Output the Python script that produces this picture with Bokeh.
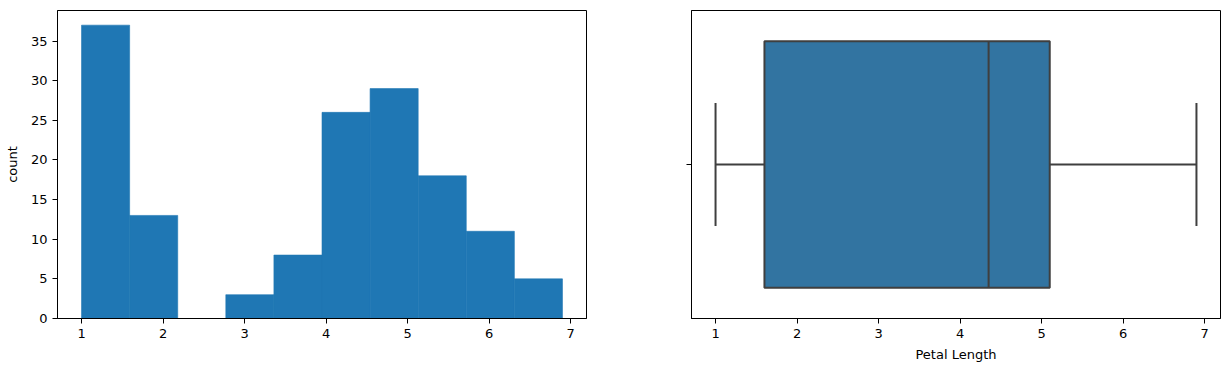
from bokeh.plotting import figure
from bokeh.layouts import row
from bokeh.models import Range1d, FixedTicker, ColumnDataSource
from bokeh.embed import file_html
from bokeh.resources import INLINE

# Histogram data (petal length)
bin_edges = [1.0, 1.59, 2.18, 2.77, 3.36, 3.95, 4.54, 5.13, 5.72, 6.31, 6.9]
counts = [37, 13, 0, 3, 8, 26, 29, 18, 11, 5]

# Box plot stats
box_min = 1.0
box_q1 = 1.6
box_median = 4.35
box_q3 = 5.1
box_max = 6.9

x_ticks = [1, 2, 3, 4, 5, 6, 7]
y_ticks = [0, 5, 10, 15, 20, 25, 30, 35]

FONT = "DejaVu Sans"
TICK_SIZE = "13px"


def style(p):
    p.outline_line_color = "black"
    p.outline_line_width = 1
    p.grid.visible = False
    p.background_fill_color = "white"
    p.border_fill_color = "white"
    for ax in p.axis:
        ax.axis_line_color = "black"
        ax.axis_line_width = 1
        ax.major_tick_line_color = "black"
        ax.major_tick_out = 5
        ax.major_tick_in = 0
        ax.minor_tick_out = 0
        ax.minor_tick_in = 0
        ax.major_label_text_font = FONT
        ax.major_label_text_font_size = TICK_SIZE
        ax.major_label_text_color = "black"
        ax.axis_label_text_font = FONT
        ax.axis_label_text_font_size = "13px"
        ax.axis_label_text_font_style = "normal"
        ax.axis_label_text_color = "black"
        ax.major_label_standoff = 5


# Left: histogram
p1 = figure(frame_width=529, frame_height=308, output_backend="svg", toolbar_location=None,
            x_range=Range1d(0.705, 7.195), y_range=Range1d(0, 38.85),
            min_border_left=57, min_border_right=34, min_border_top=10, min_border_bottom=53)
src = ColumnDataSource(dict(left=bin_edges[:-1], right=bin_edges[1:], top=counts,
                            bottom=[0] * len(counts)))
p1.quad(left="left", right="right", top="top", bottom="bottom", source=src,
        fill_color="#1f77b4", line_color="#1f77b4", line_width=0.6)
p1.xaxis.ticker = FixedTicker(ticks=x_ticks)
p1.yaxis.ticker = FixedTicker(ticks=y_ticks)
p1.yaxis.axis_label = "count"
style(p1)
p1.yaxis.axis_label_standoff = 8

# Right: box plot
LW = 2
p2 = figure(frame_width=529, frame_height=308, output_backend="svg", toolbar_location=None,
            x_range=Range1d(0.705, 7.195), y_range=Range1d(0.5, -0.5),
            min_border_left=71, min_border_right=9, min_border_top=10, min_border_bottom=53)
p2.quad(left=[box_q1], right=[box_q3], bottom=[-0.4], top=[0.4],
        fill_color="#3274a1", line_color="#3f3f3f", line_width=LW)
p2.segment(x0=[box_median], x1=[box_median], y0=[-0.4], y1=[0.4], line_color="#3f3f3f", line_width=LW)
p2.segment(x0=[box_min, box_q3], x1=[box_q1, box_max], y0=[0, 0], y1=[0, 0],
           line_color="#3f3f3f", line_width=LW)
p2.segment(x0=[box_min, box_max], x1=[box_min, box_max], y0=[-0.2, -0.2], y1=[0.2, 0.2],
           line_color="#3f3f3f", line_width=LW)
p2.xaxis.ticker = FixedTicker(ticks=x_ticks)
p2.yaxis.ticker = FixedTicker(ticks=[0])
p2.yaxis.major_label_overrides = {0: " "}
p2.xaxis.axis_label = "Petal Length"
style(p2)
p2.xaxis.axis_label_standoff = 6

layout = row(p1, p2)
open("out.html", "w").write(file_html(layout, INLINE))
